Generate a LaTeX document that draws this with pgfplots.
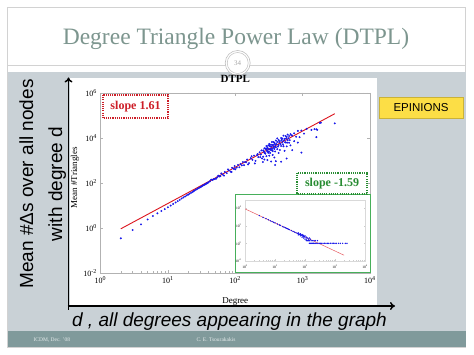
\documentclass[border=0pt]{standalone}
\usepackage{fontspec}
\setmainfont{Liberation Serif}
\newfontfamily\arial{Liberation Sans}
\usepackage{pgfplots}
\pgfplotsset{compat=1.18}
\usetikzlibrary{arrows.meta}
\definecolor{panel}{RGB}{201,209,214}
\definecolor{footer}{RGB}{128,154,155}
\definecolor{titlec}{RGB}{125,150,143}
\definecolor{ptblue}{RGB}{25,25,235}
\definecolor{fitred}{RGB}{220,20,30}
\definecolor{boxred}{RGB}{205,30,40}
\definecolor{boxgreen}{RGB}{40,140,50}
\definecolor{insetgreen}{RGB}{70,175,90}
\definecolor{epyellow}{RGB}{252,222,70}
\begin{document}
\begin{tikzpicture}[x=1pt,y=1pt]
\useasboundingbox (0,0) rectangle (474,355);
\fill[white] (0,0) rectangle (474,355);
\draw[gray!35, line width=0.8pt] (7.5,8) rectangle (465.5,347.5);
\fill[panel] (7.5,23.5) rectangle (465.5,283);
\fill[footer] (7.5,8) rectangle (465.5,23.5);
\draw[gray!35, line width=0.8pt] (7.5,290) -- (465.5,290);
\filldraw[fill=white, draw=gray!50, line width=0.6pt] (237.7,292) circle (12.5);
\draw[gray!50, line width=0.5pt] (237.7,292) circle (10.5);
\node[font=\fontsize{7}{7}\selectfont, text=gray!70] at (237.7,292) {34};
\node[font=\fontsize{23.5}{23.5}\selectfont, text=titlec, anchor=base] at (236,310) {Degree Triangle Power Law (DTPL)};
\fill[white] (70,50) rectangle (377,277);

\begin{axis}[
  at={(100.5pt,82pt)}, anchor=south west, scale only axis,
  width=269.5pt, height=180pt,
  xmode=log, ymode=log, xmin=1, xmax=1e4, ymin=1e-2, ymax=1e6,
  xtick={1,10,100,1000,10000},
  xticklabels={10\textsuperscript{0},10\textsuperscript{1},10\textsuperscript{2},10\textsuperscript{3},10\textsuperscript{4}},
  ytick={1e-2,1,1e2,1e4,1e6},
  yticklabels={10\textsuperscript{-2},10\textsuperscript{0},10\textsuperscript{2},10\textsuperscript{4},10\textsuperscript{6}},
  tick label style={font=\fontsize{8}{8}\selectfont},
  axis line style={gray!60, line width=0.4pt},
  tick style={gray!60, line width=0.3pt},
  major tick length=3pt, minor tick length=1.5pt,
  xlabel={Degree}, ylabel={Mean \#Triangles},
  label style={font=\fontsize{9}{9}\selectfont},
  xlabel style={at={(axis description cs:0.5,0)}, anchor=base, yshift=-31pt},
  ylabel style={at={(axis description cs:-0.095,0.528)}, anchor=center},
  title={DTPL},
  title style={at={(axis description cs:0.5,1)}, anchor=base, yshift=4pt, font=\bfseries\fontsize{11}{11}\selectfont},
]
\addplot[fitred, line width=0.9pt] coordinates {(2,0.92) (3000,1.2e5)};
\addplot[only marks, mark=*, mark size=0.75pt, ptblue] coordinates {
(2,0.35)(3,0.81)(4,1.45)(5,2.4)(6,3.4)(7,4.5)(8,5.7)(9,6.9)(10,8.3)(11,9.9)(12,11.7)(13,13.6)(14,15.7)(15,17.9)(16,20.3)(17,22.9)(18,25.2)(19,28.1)(20,30.5)
(21,33.5)(22,36.4)(23,39.5)(24,42.9)(25,46.5)(26,49.9)(27,53.5)(28,57.5)(29,61)(30,64.3)(31,68)(32,71.5)(33,76.9)(34,80)(35,84)(36,88.1)(37,92)(38,97)(39,102)(40,107)
(42,118)(44,140)(46,136)(48,147)(50,152)(52,156)(54,180)(56,211)(58,195)(60,201)(62,266)(65,239)(68,214)(70,309)(75,275)(78,404)(80,366)(85,321)(88,309)(90,474)(95,431)(98,570)(100,407)
(105,483)(110,641)(115,499)(120,703)(125,611)(130,857)(135,617)(140,861)(145,832)(150,1104)(160,757)(170,1262)(180,1074)(190,1656)(200,966)(210,1734)(220,1416)(230,2307)(240,1828)(250,1233)
(155,670)(175,1552)(195,736)(215,1928)(235,1403)(245,2793)(257,851)
(260,2805)(260,1472)(270,2208)(270,3499)(270,1107)(280,3311)(280,1995)(290,1563)(290,3119)(290,4406)(300,2443)(300,3873)(300,1042)(310,4688)(310,2193)(320,3112)(320,5408)(320,1633)(330,4130)(330,2168)
(340,2851)(340,5070)(340,902)(350,6699)(350,3357)(360,2600)(360,4955)(360,1758)(370,6516)(370,4111)(380,3266)(380,6223)(380,1361)(390,5023)(390,2518)(390,632)(400,7745)(400,3882)(400,931)
(420,6653)(420,3184)(420,9616)(440,4842)(440,8222)(440,2163)(460,7362)(460,2931)(480,9908)(480,4426)(480,883)(500,6683)(500,9441)(520,4295)(520,12677)(540,9099)(540,2685)(560,12134)(560,6368)
(580,4246)(580,11169)(580,1225)(600,14223)(600,7998)(630,6109)(630,12190)(660,14791)(660,4677)(700,12882)(700,2884)
(265,2576)(275,2173)(285,3404)(295,2735)(305,3381)(315,2523)(325,4508)(335,3199)(345,4227)(355,2858)(365,4842)(375,3664)(385,5781)(395,4276)(410,5333)(430,4159)(450,6622)(470,5395)(490,8147)(510,5248)(530,7870)(550,6471)(570,9484)(590,6180)(615,9772)(645,8017)(680,13213)
(750,16181)(750,7228)(800,11324)(850,20701)(850,6252)(900,10864)(960,2249)(960,21478)(1050,15631)(1150,25586)(1350,22909)(1500,24717)(1600,10914)(1600,24434)(1650,22909)(1800,46881)(1870,47643)(3000,44463)
};
\end{axis}

\filldraw[fill=white, draw=insetgreen, line width=1pt] (235,82) rectangle (370,160);
\begin{axis}[
  at={(245pt,94pt)}, anchor=south west, scale only axis,
  width=120pt, height=61pt,
  xmode=log, ymode=log, xmin=1, xmax=1e4, ymin=1e-2, ymax=8e4,
  xtick={1,10,100,1000,10000},
  xticklabels={10\textsuperscript{0},10\textsuperscript{1},10\textsuperscript{2},10\textsuperscript{3},10\textsuperscript{4}},
  ytick={1e-2,1,1e2,1e4},
  yticklabels={10\textsuperscript{-2},10\textsuperscript{0},10\textsuperscript{2},10\textsuperscript{4}},
  tick label style={font=\fontsize{3.5}{3.5}\selectfont},
  axis line style={gray!30, line width=0.3pt},
  tick style={gray!40, line width=0.2pt},
  major tick length=1.5pt, minor tick length=0.8pt,
]
\addplot[fitred!70, line width=0.5pt] coordinates {(1,7943) (2000,0.045)};
\addplot[only marks, mark=*, mark size=0.45pt, ptblue] coordinates {
(3,1380)(4,871)(5,617)(6,457)(7,350)(8,288)(9,240)(10,204)(12,151)(14,121)(15,107)(18,79)(20,68)(22,58)(24,50)(26,45)(28,40)(30,35)(35,28)(40,22)(45,18.6)(50,15.8)(55,13.5)
(60,11.7)(60,15)(60,9)(65,10.5)(70,9.3)(70,12)(70,7)(75,8.5)(80,7.4)(80,10)(80,5)(85,6.8)(90,6.2)(90,8)(90,4)(95,5.5)(100,5.2)(100,7)(100,3)
(110,5)(110,3)(110,2)(120,4)(120,2)(130,3)(130,2)(140,4)(140,2)(140,1)(150,3)(150,1)(160,2)(160,1)(170,1)(180,2)(180,1)(190,1)(200,2)(200,1)(215,1)(220,2)(230,1)(250,1)(260,2)(270,1)
(300,1)(330,1)(360,1)(400,1)(450,1)(500,1)(560,1)(620,1)(700,1)(800,1)(900,1)(1000,1)(1100,1)(1300,1)(1500,1)(1800,1)(2200,1)(2500,1)
};
\end{axis}

\draw[boxred, line width=1.8pt, dash pattern=on 1.1pt off 1.1pt] (102.7,260) rectangle (168.3,236.7);
\node[text=boxred, font=\bfseries\fontsize{12}{12}\selectfont] at (135.5,248.3) {slope 1.61};
\draw[boxgreen, line width=1.8pt, dash pattern=on 1.1pt off 1.1pt] (297.3,182.3) rectangle (366.7,160.7);
\node[text=boxgreen, font=\bfseries\fontsize{12}{12}\selectfont] at (332,171.5) {slope -1.59};

\draw[line width=1.5pt, -{To[length=5pt,width=8pt]}] (68.5,45) -- (68.5,277.5);
\draw[line width=1.5pt, -{To[length=5pt,width=8pt]}] (67.5,49) -- (395,49);

\node[rotate=90, font=\arial\fontsize{19}{19}\selectfont, anchor=base] at (33,171) {Mean \#Δs over all nodes};
\node[rotate=90, font=\arial\fontsize{19}{19}\selectfont, anchor=base] at (62,171) {with degree d};
\node[font=\arial\itshape\fontsize{19}{19}\selectfont, anchor=base] at (229.5,28) {d , all degrees appearing in the graph};

\node[fill=epyellow, draw=epyellow!80!black, line width=0.3pt, minimum width=84pt, minimum height=21pt, inner sep=0pt, font=\arial\fontsize{11.5}{11.5}\selectfont] at (421,247) {EPINIONS};

\node[font=\fontsize{5.5}{5.5}\selectfont, text=white!80!footer, anchor=base west] at (30,13) {ICDM, Dec. '08};
\node[font=\fontsize{5.5}{5.5}\selectfont, text=white!80!footer, anchor=base west] at (193,13) {C. E. Tsourakakis};
\end{tikzpicture}
\end{document}
